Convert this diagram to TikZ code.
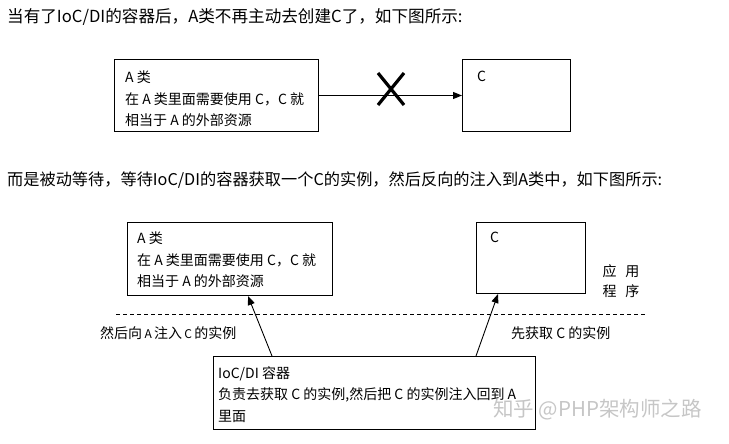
\documentclass[tikz,border=0pt]{standalone}
\usepackage{fontspec}
\setmainfont{Noto Sans CJK SC}
\usetikzlibrary{arrows.meta,positioning}

\tikzset{
    classbox/.style={draw, line width=1pt, inner sep=0pt, anchor=north west},
    boxtext/.style={inner sep=0pt, anchor=north west, align=left,
        font=\fontsize{14}{21.5}\selectfont},
    heading/.style={inner sep=0pt, anchor=west, font=\fontsize{16.6}{20}\selectfont},
    linktext/.style={inner sep=0pt, anchor=west, font=\fontsize{14}{18}\selectfont},
    inject/.style={line width=0.9pt, -{Triangle[length=9pt,width=7pt]}}
}

\begin{document}
\begin{tikzpicture}[x=1pt, y=-1pt]
        \useasboundingbox (0,0) rectangle (729,444);

        % headings
        \node [heading] (head1) at (7,17) {当有了IoC/DI的容器后，A类不再主动去创建C了，如下图所示:};
        \node [heading, font=\fontsize{16.2}{20}\selectfont] (head2) at (7,180) {而是被动等待，等待IoC/DI的容器获取一个C的实例，然后反向的注入到A类中，如下图所示:};

        % first picture: A creates C itself
        \node [classbox, minimum width=204, minimum height=72] (A1) at (114,59) {};
        \node [boxtext] (A1text) at ([shift={(11,12)}]A1.north west) {A 类\\在 A 类里面需要使用 C，C 就\\相当于 A 的外部资源};
        \node [classbox, minimum width=108, minimum height=72] (C1) at (462,59) {};
        \node [boxtext] (C1text) at ([shift={(15,12)}]C1.north west) {C};
        \draw [inject] (A1.east) -- (C1.west);

        \coordinate (cross) at (391,89);
        \draw [line width=3.2pt] ([shift={(-13,-16)}]cross) -- ([shift={(13,16)}]cross);
        \draw [line width=3.2pt] ([shift={(-13,16)}]cross) -- ([shift={(13,-16)}]cross);

        % second picture: the container injects C into A
        \node [classbox, minimum width=205, minimum height=73] (A2) at (127,222) {};
        \node [boxtext] (A2text) at ([shift={(10,10)}]A2.north west) {A 类\\在 A 类里面需要使用 C，C 就\\相当于 A 的外部资源};
        \node [classbox, minimum width=109, minimum height=71] (C2) at (476,222) {};
        \node [boxtext] (C2text) at ([shift={(14,10)}]C2.north west) {C};
        \node [boxtext, anchor=center, font=\fontsize{14}{20}\selectfont] (app) at (621,281) {应\hspace{9pt}用\\程\hspace{9pt}序};

        \coordinate (dashL) at (116,314);
        \coordinate (dashR) at (646,314);
        \draw [line width=0.9pt, dash pattern=on 4pt off 3pt] (dashL) -- (dashR);

        \node [classbox, minimum width=322, minimum height=73] (ioc) at (213,356) {};
        \node [boxtext] (ioctext) at ([shift={(5,10)}]ioc.north west) {IoC/DI 容器\\负责去获取 C 的实例,然后把 C 的实例注入回到 A\\里面};

        \draw [inject] ([xshift=59]ioc.north west) -- ([xshift=121]A2.south west);
        \draw [inject] ([xshift=263]ioc.north west) -- ([xshift=22]C2.south west);

        \node [linktext] (toA) at (100,333) {然后向\,{\fontsize{12}{14}\selectfont A}\,注入\,{\fontsize{12}{14}\selectfont C}\,的实例};
        \node [linktext] (getC) at (511,333) {先获取 C 的实例};

        \node [heading, text=gray!45, font=\fontsize{20.5}{24}\selectfont] (mark) at (493,410) {知乎 @PHP架构师之路};
    \end{tikzpicture}
\end{document}
